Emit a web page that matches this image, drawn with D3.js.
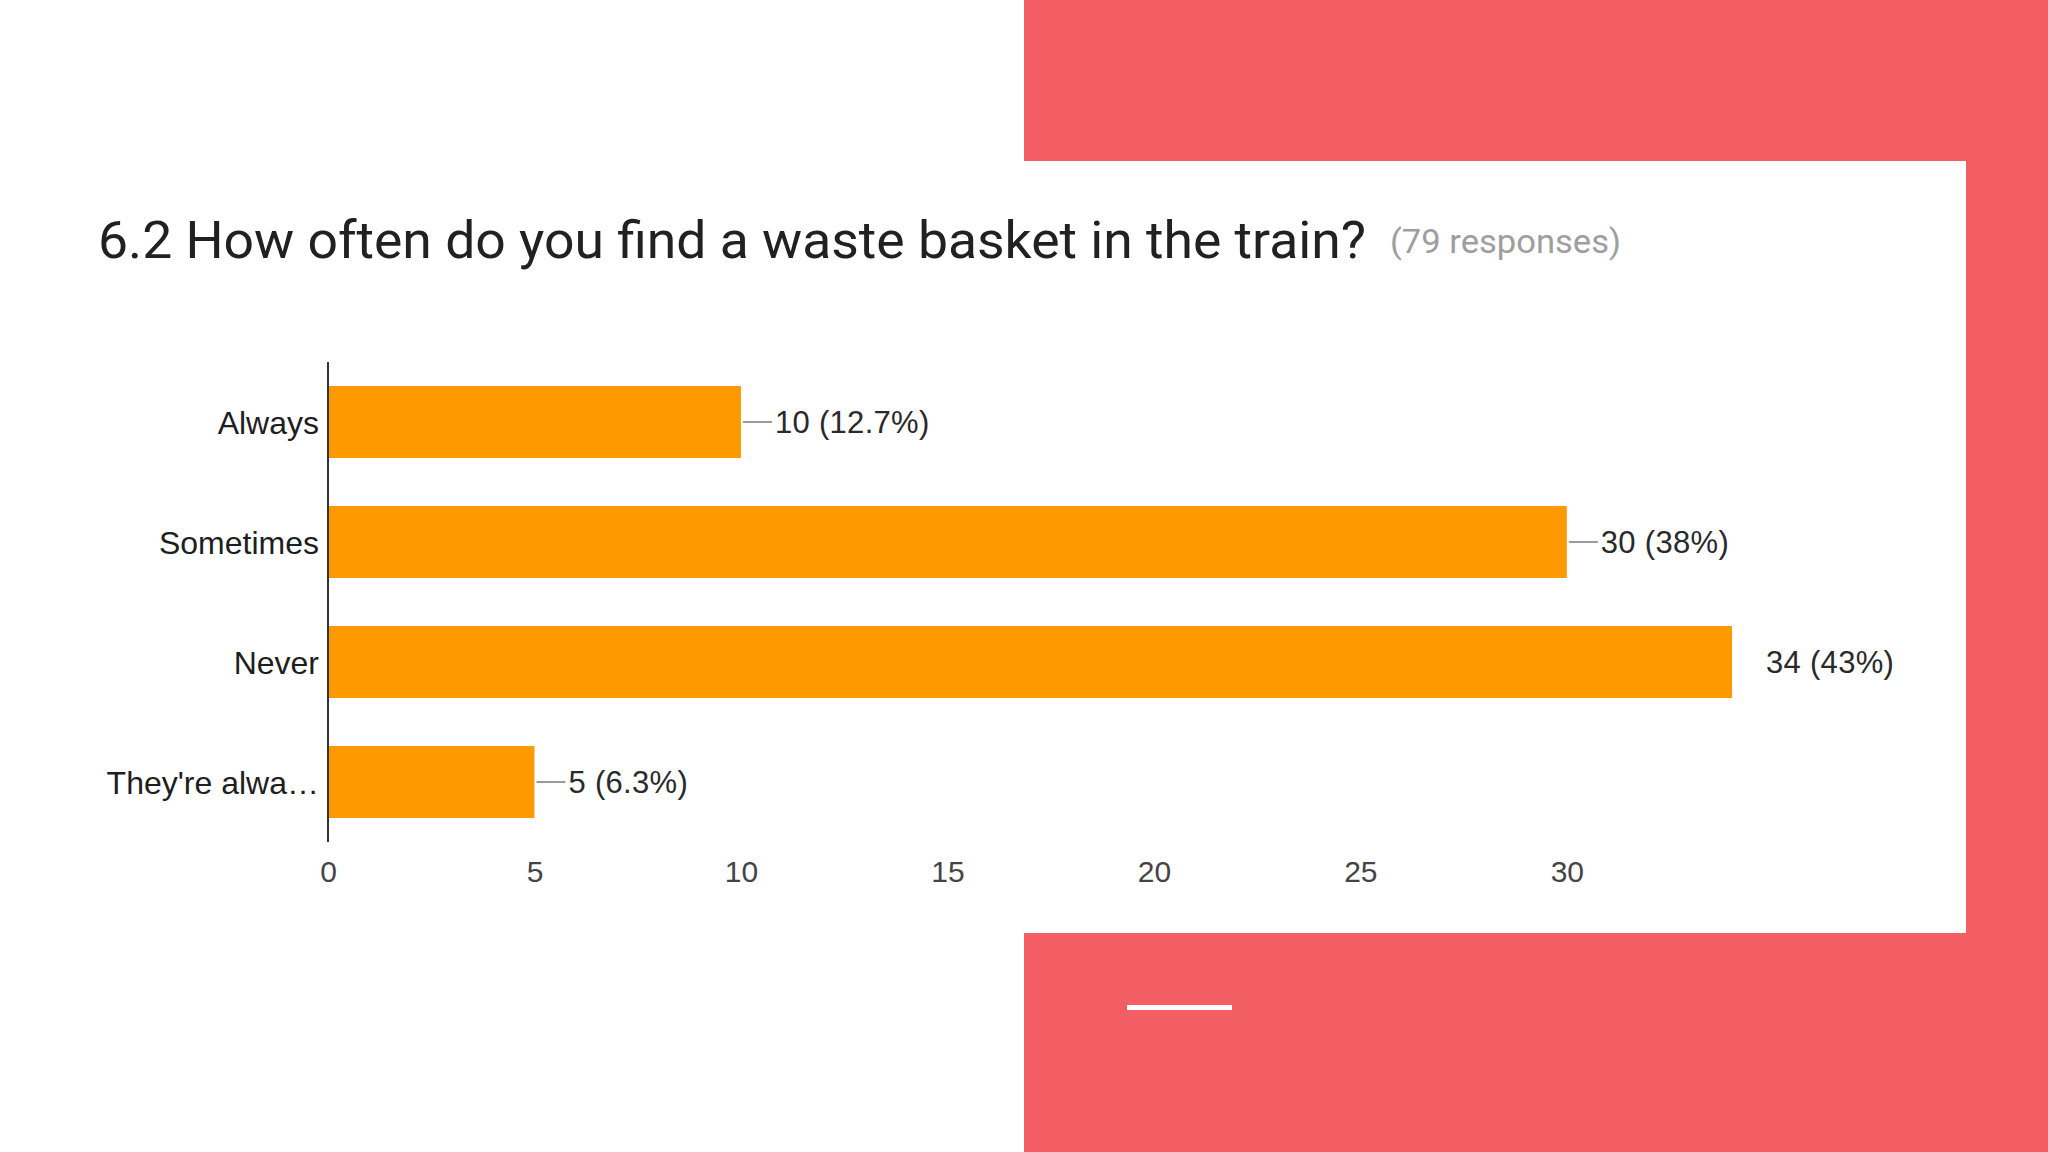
<!DOCTYPE html>
<html>
<head>
<meta charset="utf-8">
<script src="https://cdn.jsdelivr.net/npm/d3@7"></script>
<style>
  html, body { margin: 0; padding: 0; background: #ffffff; overflow: hidden; }
  svg { display: block; }
</style>
</head>
<body>
<svg id="chart" width="2048" height="1152"></svg>
<script>
// ---- data ----
const titleText = "6.2 How often do you find a waste basket in the train?";
const responsesText = "(79 responses)";
const categories = ["Always", "Sometimes", "Never", "They're alwa…"];
const counts = [10, 30, 34, 5];
const percentLabels = ["12.7%", "38%", "43%", "6.3%"];
const tickValues = [0, 5, 10, 15, 20, 25, 30];

// ---- layout ----
const W = 2048, H = 1152;
const svg = d3.select("#chart");
const red = "#F35E65";

// decorative background
svg.append("rect").attr("x", 0).attr("y", 0).attr("width", W).attr("height", H).attr("fill", "#ffffff");
svg.append("rect").attr("x", 1024).attr("y", 0).attr("width", W - 1024).attr("height", H).attr("fill", red);
svg.append("rect").attr("x", 0).attr("y", 161).attr("width", 1966).attr("height", 933 - 161).attr("fill", "#ffffff");
svg.append("rect").attr("x", 1127).attr("y", 1005).attr("width", 105).attr("height", 5).attr("fill", "#ffffff");

// title
svg.append("text")
  .attr("x", 98).attr("y", 258)
  .attr("font-family", "Roboto, 'Liberation Sans', Arial, sans-serif")
  .attr("font-size", 52)
  .attr("fill", "#212121")
  .attr("textLength", 1268)
  .attr("lengthAdjust", "spacingAndGlyphs")
  .text(titleText);

svg.append("text")
  .attr("x", 1390).attr("y", 253)
  .attr("font-family", "Roboto, 'Liberation Sans', Arial, sans-serif")
  .attr("font-size", 33)
  .attr("fill", "#9e9e9e")
  .attr("textLength", 231)
  .attr("lengthAdjust", "spacingAndGlyphs")
  .text(responsesText);

// scales
const x = d3.scaleLinear().domain([0, 34]).range([328, 1732]);
const y = d3.scaleBand().domain(categories).range([362, 842]).paddingInner(0.4).paddingOuter(0.2);

const data = categories.map((c, i) => ({ cat: c, value: counts[i], pct: percentLabels[i] }));
const maxVal = d3.max(counts);
const font = "'Liberation Sans', Arial, sans-serif";

// bars
svg.append("g").selectAll("rect").data(data).join("rect")
  .attr("x", x(0))
  .attr("y", d => y(d.cat))
  .attr("width", d => x(d.value) - x(0))
  .attr("height", y.bandwidth())
  .attr("fill", "#FF9900");

// leader lines
svg.append("g").selectAll("line").data(data.filter(d => d.value !== maxVal)).join("line")
  .attr("x1", d => x(d.value) + 2)
  .attr("x2", d => x(d.value) + 31)
  .attr("y1", d => y(d.cat) + y.bandwidth() / 2)
  .attr("y2", d => y(d.cat) + y.bandwidth() / 2)
  .attr("stroke", "#9a9a9a")
  .attr("stroke-width", 2);

// value labels
svg.append("g").selectAll("text").data(data).join("text")
  .attr("x", d => x(d.value) + 34)
  .attr("y", d => y(d.cat) + y.bandwidth() / 2 + 11)
  .attr("font-family", font)
  .attr("font-size", 31)
  .attr("letter-spacing", 0.3)
  .attr("fill", "#2a2a2a")
  .text(d => `${d.value} (${d.pct})`);

// y axis (category labels + baseline)
const yAxis = d3.axisLeft(y).tickSize(0).tickPadding(0);
const gy = svg.append("g").attr("transform", `translate(${x(0)},0)`).call(yAxis);
gy.select(".domain").remove();
gy.selectAll(".tick text")
  .attr("x", -9).attr("dy", null).attr("y", 12)
  .attr("text-anchor", "end")
  .attr("font-family", font)
  .attr("font-size", 32)
  .attr("letter-spacing", 0)
  .attr("fill", "#1e1e1e");

svg.append("line")
  .attr("x1", x(0)).attr("x2", x(0))
  .attr("y1", 362).attr("y2", 842)
  .attr("stroke", "#333333").attr("stroke-width", 2);

// x axis tick labels
const xAxis = d3.axisBottom(x).tickValues(tickValues).tickSize(0).tickPadding(0).tickFormat(d3.format("d"));
const gx = svg.append("g").attr("transform", "translate(0,842)").call(xAxis);
gx.select(".domain").remove();
gx.selectAll(".tick text")
  .attr("y", 40).attr("dy", null)
  .attr("font-family", font)
  .attr("font-size", 30)
  .attr("fill", "#444444");
</script>
</body>
</html>
